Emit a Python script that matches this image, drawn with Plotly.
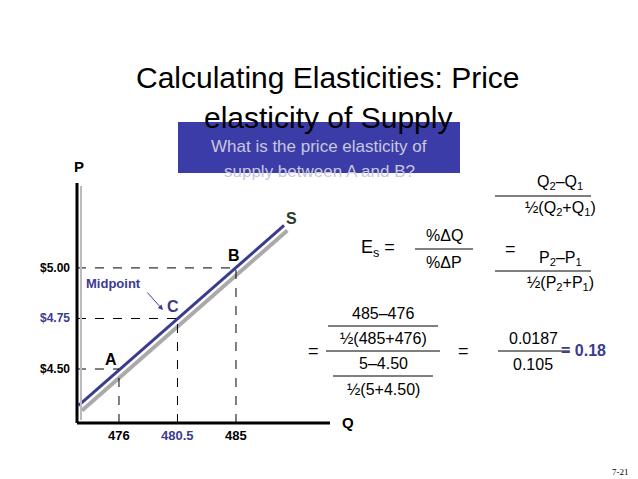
import plotly.graph_objects as go

W, H = 638, 479
q_line = [472.9, 488.7]
p_line = [4.32, 5.21]
pts_names = ["A", "C", "B"]
pts_q = [476, 480.5, 485]
pts_p = [4.50, 4.75, 5.00]
tick_q = ["476", "480.5", "485"]
tick_p = ["$4.50", "$4.75", "$5.00"]

def px(x): return x / W
def py(y): return 1 - y / H

fig = go.Figure()
fig.add_trace(go.Scatter(x=[q + 0.25 for q in q_line], y=[p - 0.025 for p in p_line], mode="lines",
                         line=dict(color="#aaaaaa", width=4), hoverinfo="skip"))
fig.add_trace(go.Scatter(x=q_line, y=p_line, mode="lines", line=dict(color="#3b3b8f", width=3), hoverinfo="skip"))

for q, p in zip(pts_q, pts_p):
    fig.add_shape(type="line", x0=472.77, x1=q, y0=p, y1=p, line=dict(color="black", width=1, dash="dash"))
    fig.add_shape(type="line", x0=q, x1=q, y0=4.233, y1=p, line=dict(color="black", width=1, dash="dash"))

fig.update_xaxes(domain=[px(69), px(330)], range=[472.77, 492.85], showgrid=False, zeroline=False,
                 showticklabels=False, showline=False)
fig.update_yaxes(domain=[py(415), py(175)], range=[4.233, 5.42], showgrid=False, zeroline=False,
                 showticklabels=False, showline=False)
fig.add_shape(type="line", xref="paper", yref="paper", x0=px(69), x1=px(69), y0=py(415), y1=py(175), line=dict(color="black", width=3))
fig.add_shape(type="line", xref="paper", yref="paper", x0=px(69), x1=px(322), y0=py(415), y1=py(415), line=dict(color="black", width=3))
fig.add_shape(type="line", xref="paper", yref="paper", x0=px(73), x1=px(73), y0=py(412), y1=py(178), line=dict(color="#bbbbbb", width=2))

blue = "#3b3b8f"
ann = []
def A(x, y, t, size=14, color="black", bold=False, xanchor="center", font="Arial"):
    if bold: t = "<b>" + t + "</b>"
    ann.append(dict(x=px(x), y=py(y), xref="paper", yref="paper", text=t, showarrow=False,
                    font=dict(size=size, color=color, family=font), xanchor=xanchor, yanchor="middle"))

for q, t, c in zip(pts_q, tick_q, ["black", blue, "black"]):
    ann.append(dict(x=q, y=4.233, xref="x", yref="y", text="<b>" + t + "</b>", showarrow=False, yshift=-12,
                    font=dict(size=13, color=c, family="Arial")))
for p, t, c in zip(pts_p, tick_p, ["black", blue, "black"]):
    ann.append(dict(x=px(64), y=p, xref="paper", yref="y", text="<b>" + t + "</b>", showarrow=False,
                    xanchor="right", font=dict(size=12, color=c, family="Arial")))
for n, q, p, c, dx, dy in zip(pts_names, pts_q, pts_p, ["black", blue, "black"], [-8, -4, -2], [10, 12, 12]):
    ann.append(dict(x=q, y=p, xref="x", yref="y", text="<b>" + n + "</b>", showarrow=False, xshift=dx, yshift=dy,
                    font=dict(size=16, color=c, family="Arial")))
A(283, 210, "S", 16, "#2a3a2a", True)
A(71, 158, "P", 15, "black", True)
A(340, 414, "Q", 15, "black", True)
A(105, 275, "Midpoint", 13, blue, True)
ann.append(dict(x=px(155), y=py(302), ax=-17, ay=-19, xref="paper", yref="paper",
                text="", showarrow=True, arrowhead=2, arrowsize=1, arrowwidth=1, arrowcolor=blue))

A(320, 70, "Calculating Elasticities: Price", 30)
A(320, 110, "elasticity of Supply", 30)
fig.add_shape(type="rect", xref="paper", yref="paper", x0=px(170), x1=px(452), y0=py(165), y1=py(114),
              fillcolor="#3c3ca8", line=dict(width=0), layer="above")
ann.append(dict(x=px(311), y=py(127), xref="paper", yref="paper", text="What is the price elasticity of", showarrow=False,
                font=dict(size=17, color="#c8c8dc", family="Arial")))
ann.append(dict(x=px(311), y=py(152), xref="paper", yref="paper", text="supply between A and B?", showarrow=False,
                font=dict(size=17, color="#c8c8dc", family="Arial")))

A(370, 240, "E<sub>s</sub> =", 18)
A(436, 227, "%ΔQ", 16)
A(436, 255, "%ΔP", 16)
A(502, 241, "=", 18)
A(552, 175, "Q<sub>2</sub>–Q<sub>1</sub>", 16)
A(552, 200, "½(Q<sub>2</sub>+Q<sub>1</sub>)", 16)
A(552, 250, "P<sub>2</sub>–P<sub>1</sub>", 16)
A(552, 275, "½(P<sub>2</sub>+P<sub>1</sub>)", 16)
A(375, 305, "485–476", 16)
A(375, 330, "½(485+476)", 16)
A(375, 355, "5–4.50", 16)
A(375, 381, "½(5+4.50)", 16)
A(305, 343, "=", 18)
A(455, 343, "=", 18)
A(525, 330, "0.0187", 16)
A(525, 356, "0.105", 16)
A(575, 342, "<b>= 0.18</b>", 16, blue)
A(612, 464, "7-21", 9, "black", False, "center", "Times New Roman")

for x0, x1, y in [(407, 465, 241), (487, 583, 188), (487, 583, 263), (320, 430, 318), (318, 432, 343), (325, 425, 368), (490, 562, 343)]:
    fig.add_shape(type="line", xref="paper", yref="paper", x0=px(x0), x1=px(x1), y0=py(y), y1=py(y), line=dict(color="black", width=1))

fig.update_layout(width=W, height=H, margin=dict(l=0, r=0, t=0, b=0), showlegend=False,
                  plot_bgcolor="white", paper_bgcolor="white", annotations=ann)
fig.write_html("out.html")
